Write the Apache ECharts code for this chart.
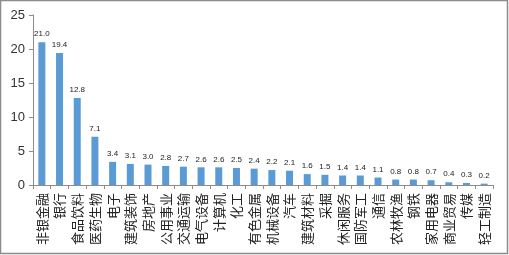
<!DOCTYPE html>
<html><head><meta charset="utf-8">
<script src="https://cdn.jsdelivr.net/npm/echarts@6/dist/echarts.min.js"></script>
<style>html,body{margin:0;padding:0;background:#fff}#c{width:509px;height:255px}</style>
</head><body><div id="c"></div>
<script>
const categories = ['非银金融','银行','食品饮料','医药生物','电子','建筑装饰','房地产','公用事业','交通运输','电气设备','计算机','化工','有色金属','机械设备','汽车','建筑材料','采掘','休闲服务','国防军工','通信','农林牧渔','钢铁','家用电器','商业贸易','传媒','轻工制造'];
const values = [21.0,19.4,12.8,7.1,3.4,3.1,3.0,2.8,2.7,2.6,2.6,2.5,2.4,2.2,2.1,1.6,1.5,1.4,1.4,1.1,0.8,0.8,0.7,0.4,0.3,0.2];
const yTicks = [0,5,10,15,20,25];

const chart = echarts.init(document.getElementById('c'), null, {renderer:'canvas'});
chart.setOption({
  animation:false,
  backgroundColor:'#fff',
  graphic:[{type:'rect',shape:{x:0.5,y:0.5,width:507,height:253},style:{fill:'none',stroke:'#8c8c8c',lineWidth:1.5},silent:true}],
  grid:{left:33,right:16,top:15,bottom:70},
  xAxis:{type:'category',data:categories,
    axisLine:{lineStyle:{color:'#8c8c8c'}},
    axisTick:{show:true,interval:0,length:4,lineStyle:{color:'#8c8c8c'}},
    axisLabel:{interval:0,rotate:90,fontSize:13,color:'#222',margin:8,fontFamily:'Noto Sans CJK SC'}},
  yAxis:{type:'value',min:yTicks[0],max:yTicks[yTicks.length-1],interval:5,
    splitLine:{show:false},
    axisLine:{show:true,lineStyle:{color:'#8c8c8c'}},
    axisTick:{show:true,length:4,lineStyle:{color:'#8c8c8c'}},
    axisLabel:{fontSize:13,color:'#333',margin:8,fontFamily:'Liberation Sans'}},
  series:[{type:'bar',data:values,barWidth:7,itemStyle:{color:'#5b9bd5'},
    label:{show:true,position:'top',fontSize:8,color:'#222',distance:4,fontFamily:'Liberation Sans',
      formatter:p=>p.value.toFixed(1)}}]
});
</script></body></html>
